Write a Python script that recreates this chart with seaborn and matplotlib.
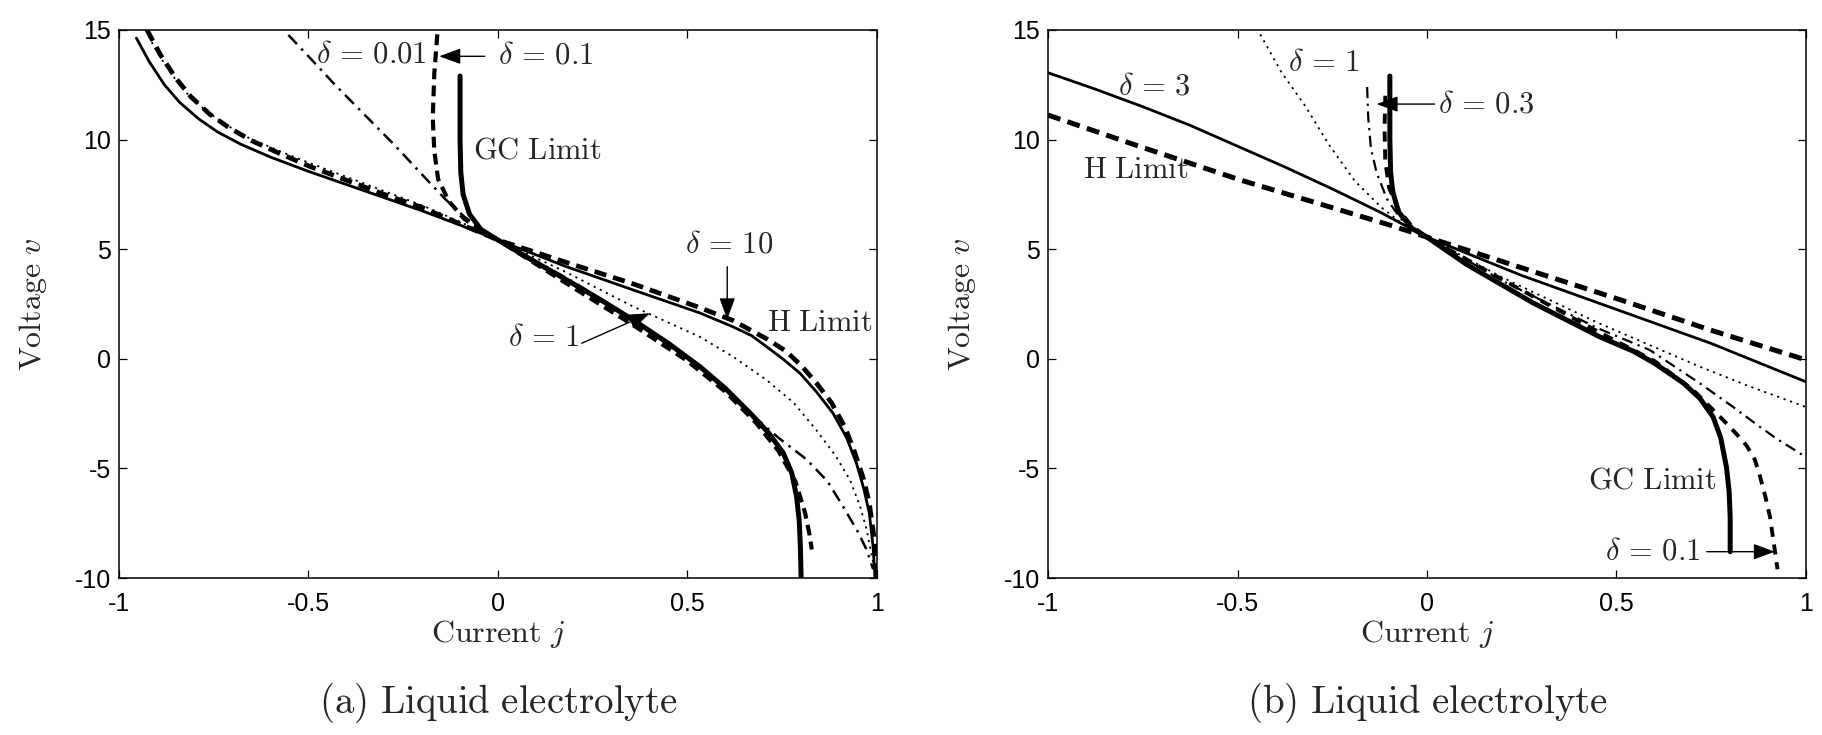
import matplotlib
matplotlib.use("Agg")
import matplotlib.pyplot as plt
import seaborn as sns
import pandas as pd

# ---- panel (a) curves (current j, voltage v) ----
a_gc_j = [-0.10, -0.10, -0.10, -0.098, -0.092, -0.075, -0.045, 0.0, 0.09, 0.181, 0.27, 0.357, 0.45, 0.533, 0.60, 0.665, 0.715, 0.753, 0.775, 0.788, 0.795, 0.798, 0.80]
a_gc_v = [12.9, 11.0, 10.0, 8.5, 7.5, 6.6, 5.9, 5.42, 4.5, 3.6, 2.7, 1.77, 0.7, -0.36, -1.35, -2.47, -3.4, -4.3, -5.2, -6.29, -7.4, -8.57, -10.0]

a_d01_j = [-0.16, -0.168, -0.172, -0.168, -0.158, -0.13, -0.09, -0.045, 0.0, 0.18, 0.36, 0.50, 0.60, 0.68, 0.74, 0.785, 0.81, 0.822, 0.828]
a_d01_v = [14.8, 13.0, 11.0, 9.5, 8.2, 7.2, 6.4, 5.85, 5.42, 3.45, 1.5, -0.1, -1.5, -2.9, -4.2, -5.6, -7.0, -8.0, -8.7]

a_d001_j = [-0.553, -0.50, -0.43, -0.35, -0.27, -0.20, -0.14, -0.09, -0.04, 0.0, 0.2, 0.4, 0.55, 0.656, 0.74, 0.815, 0.87, 0.911, 0.95, 0.973, 0.99]
a_d001_v = [14.77, 13.8, 12.5, 11.1, 9.7, 8.4, 7.3, 6.5, 5.85, 5.42, 3.5, 1.3, -0.6, -2.34, -3.6, -4.6, -5.6, -6.75, -7.9, -8.72, -9.6]

a_dot_j = [-0.93, -0.90, -0.86, -0.82, -0.77, -0.72, -0.66, -0.58, -0.50, -0.40, -0.30, -0.20, -0.10, 0.0, 0.18, 0.357, 0.533, 0.62, 0.709, 0.78, 0.84, 0.89, 0.929, 0.955, 0.973, 0.99, 0.995]
a_dot_v = [15.0, 14.0, 12.95, 12.1, 11.3, 10.7, 10.1, 9.5, 8.95, 8.3, 7.65, 7.0, 6.25, 5.42, 3.95, 2.38, 1.0, 0.1, -0.97, -2.0, -3.25, -4.4, -5.53, -6.7, -7.8, -9.3, -10.0]

a_d10_j = [-0.954, -0.92, -0.88, -0.84, -0.79, -0.74, -0.68, -0.60, -0.50, -0.40, -0.30, -0.20, -0.10, 0.0, 0.181, 0.357, 0.533, 0.62, 0.67, 0.709, 0.755, 0.797, 0.84, 0.884, 0.92, 0.946, 0.965, 0.98, 0.99, 0.995]
a_d10_v = [14.63, 13.55, 12.5, 11.7, 10.95, 10.35, 9.8, 9.2, 8.55, 7.95, 7.35, 6.75, 6.1, 5.42, 4.2, 3.14, 2.09, 1.46, 1.05, 0.55, -0.05, -0.66, -1.5, -2.48, -3.6, -4.77, -5.9, -7.05, -8.6, -10.0]

a_h_j = [-0.926, -0.89, -0.85, -0.81, -0.76, -0.71, -0.65, -0.58, -0.50, -0.40, -0.30, -0.20, -0.10, 0.0, 0.18, 0.36, 0.53, 0.62, 0.71, 0.76, 0.80, 0.84, 0.88, 0.915, 0.94, 0.965, 0.98, 0.995, 1.0]
a_h_v = [15.0, 13.85, 12.8, 11.95, 11.15, 10.55, 9.95, 9.4, 8.8, 8.15, 7.5, 6.9, 6.15, 5.42, 4.4, 3.4, 2.35, 1.75, 0.9, 0.35, -0.3, -1.1, -2.0, -3.1, -4.2, -5.5, -6.6, -8.5, -10.0]

# ---- panel (b) curves ----
b_gc_j = [-0.098, -0.098, -0.098, -0.096, -0.09, -0.075, -0.04, 0.0, 0.105, 0.28, 0.456, 0.544, 0.60, 0.676, 0.72, 0.755, 0.775, 0.79, 0.797, 0.80, 0.80]
b_gc_v = [12.9, 11.0, 10.0, 8.5, 7.6, 6.7, 5.95, 5.55, 4.3, 2.55, 1.0, 0.35, -0.2, -1.1, -1.8, -2.65, -3.6, -4.92, -6.0, -7.2, -8.8]

b_d01_j = [-0.11, -0.112, -0.11, -0.10, -0.075, -0.04, 0.0, 0.2, 0.45, 0.60, 0.702, 0.773, 0.815, 0.843, 0.865, 0.879, 0.893, 0.905, 0.915, 0.925]
b_d01_v = [12.0, 10.5, 9.0, 7.8, 6.8, 6.05, 5.55, 3.6, 1.25, -0.1, -1.42, -2.64, -3.4, -3.95, -4.6, -5.38, -6.3, -7.2, -8.4, -9.6]

b_d03_j = [-0.158, -0.155, -0.148, -0.133, -0.106, -0.07, -0.03, 0.0, 0.2, 0.45, 0.588, 0.72, 0.808, 0.87, 0.923, 0.984, 1.0]
b_d03_v = [12.4, 11.0, 9.6, 8.5, 7.3, 6.4, 5.85, 5.55, 3.55, 1.4, 0.4, -1.12, -2.2, -3.0, -3.65, -4.31, -4.5]

b_d1_j = [-0.44, -0.385, -0.32, -0.26, -0.19, -0.12, -0.06, 0.0, 0.2, 0.45, 0.72, 0.85, 1.0]
b_d1_v = [14.8, 13.1, 11.5, 9.8, 8.1, 6.9, 6.1, 5.55, 3.7, 1.65, -0.36, -1.25, -2.2]

b_d3_j = [-1.0, -0.875, -0.75, -0.625, -0.5, -0.375, -0.25, -0.125, 0.0, 0.25, 0.5, 0.75, 1.0]
b_d3_v = [13.05, 12.3, 11.5, 10.65, 9.7, 8.75, 7.75, 6.7, 5.55, 3.8, 2.25, 0.7, -1.05]

b_h_j = [-1.0, -0.757, -0.493, -0.23, -0.098, 0.0, 0.25, 0.5, 0.75, 1.0]
b_h_v = [11.12, 9.68, 8.16, 6.79, 6.1, 5.55, 4.15, 2.75, 1.3, -0.05]

x_ticks = [-1, -0.5, 0, 0.5, 1]
x_ticklabels = ["-1", "-0.5", "0", "0.5", "1"]
y_ticks = [-10, -5, 0, 5, 10, 15]

sns.set_style("ticks", {"xtick.direction": "in", "ytick.direction": "in"})
plt.rcParams["font.family"] = ["Liberation Sans", "DejaVu Sans"]
plt.rcParams["mathtext.fontset"] = "cm"
plt.rcParams["axes.unicode_minus"] = False

THICK = 3.6
DASH_THICK = (0, (2.6, 1.5))
DASH_MED = (0, (2.6, 2.0))
DOT = (0, (1.2, 2.6))
DASHDOT = (0, (5.0, 2.5, 1.0, 2.5))


def curve(ax, j, v, lw, ls):
    df = pd.DataFrame({"j": j, "v": v})
    sns.lineplot(data=df, x="j", y="v", ax=ax, sort=False, estimator=None,
                 color="k", lw=lw, linestyle=ls)


def arrow(ax, tail, tip):
    ax.annotate("", xy=tip, xytext=tail,
                arrowprops=dict(arrowstyle="-|>,head_length=0.6,head_width=0.22",
                                color="k", lw=1.0, mutation_scale=22,
                                shrinkA=0, shrinkB=0))


fig = plt.figure(figsize=(18.22, 7.35), dpi=100)
ax1 = fig.add_axes([0.0653, 0.2136, 0.416, 0.7456])
ax2 = fig.add_axes([0.5752, 0.2136, 0.416, 0.7456])

# (a)
curve(ax1, a_d10_j, a_d10_v, 2.0, "-")
curve(ax1, a_dot_j, a_dot_v, 1.3, DOT)
curve(ax1, a_h_j, a_h_v, 3.4, DASH_THICK)
curve(ax1, a_d001_j, a_d001_v, 1.8, DASHDOT)
curve(ax1, a_d01_j, a_d01_v, 3.0, DASH_THICK)
curve(ax1, a_gc_j, a_gc_v, THICK, "-")

# (b)
curve(ax2, b_d3_j, b_d3_v, 2.0, "-")
curve(ax2, b_h_j, b_h_v, 3.6, DASH_THICK)
curve(ax2, b_d1_j, b_d1_v, 1.3, DOT)
curve(ax2, b_d03_j, b_d03_v, 1.6, DASHDOT)
curve(ax2, b_d01_j, b_d01_v, 2.8, DASH_MED)
curve(ax2, b_gc_j, b_gc_v, THICK, "-")

txt = dict(fontsize=22, va="center", ha="left")
ax1.text(-0.48, 13.9, r"$\delta\,=\,0.01$", **txt)
ax1.text(0.0, 13.85, r"$\delta\,=\,0.1$", **txt)
arrow(ax1, (-0.035, 13.8), (-0.155, 13.8))
ax1.text(-0.065, 9.5, r"$\mathrm{GC\ Limit}$", **txt)
ax1.text(0.61, 5.2, r"$\delta\,=\,10$", fontsize=22, va="center", ha="center")
arrow(ax1, (0.605, 4.2), (0.605, 1.8))
ax1.text(0.71, 1.63, r"$\mathrm{H\ Limit}$", **txt)
ax1.text(0.027, 0.93, r"$\delta\,=\,1$", **txt)
arrow(ax1, (0.221, 0.71), (0.401, 2.08))

ax2.text(-0.815, 12.41, r"$\delta\,=\,3$", **txt)
ax2.text(-0.908, 8.61, r"$\mathrm{H\ Limit}$", **txt)
ax2.text(-0.367, 13.48, r"$\delta\,=\,1$", **txt)
ax2.text(0.03, 11.62, r"$\delta\,=\,0.3$", **txt)
arrow(ax2, (0.02, 11.62), (-0.133, 11.62))
ax2.text(0.425, -5.53, r"$\mathrm{GC\ Limit}$", **txt)
ax2.text(0.47, -8.8, r"$\delta\,=\,0.1$", **txt)
arrow(ax2, (0.738, -8.8), (0.918, -8.8))

for ax, cap in [(ax1, r"$\mathrm{(a)\ Liquid\ electrolyte}$"),
                (ax2, r"$\mathrm{(b)\ Liquid\ electrolyte}$")]:
    ax.set_xlim(-1, 1)
    ax.set_ylim(-10, 15)
    ax.set_xticks(x_ticks)
    ax.set_xticklabels(x_ticklabels)
    ax.set_yticks(y_ticks)
    ax.tick_params(axis="both", which="both", direction="in", top=True, right=True,
                   length=6, width=0.9, labelsize=18, colors="k")
    ax.tick_params(axis="x", pad=10)
    ax.tick_params(axis="y", pad=6)
    for s in ax.spines.values():
        s.set_linewidth(1.1)
        s.set_color("k")
    ax.set_xlabel(r"$\mathrm{Current}\ j$", fontsize=23)
    ax.set_ylabel(r"$\mathrm{Voltage}\ v$", fontsize=23)
    ax.xaxis.set_label_coords(0.5, -0.102)
    ax.xaxis.label.set_verticalalignment("center")
    ax.yaxis.set_label_coords(-0.113, 0.5)
    ax.yaxis.label.set_verticalalignment("center")
    pos = ax.get_position()
    fig.text((pos.x0 + pos.x1) / 2, 0.0435, cap, fontsize=28, ha="center", va="center")

fig.savefig("out.png", dpi=100)
